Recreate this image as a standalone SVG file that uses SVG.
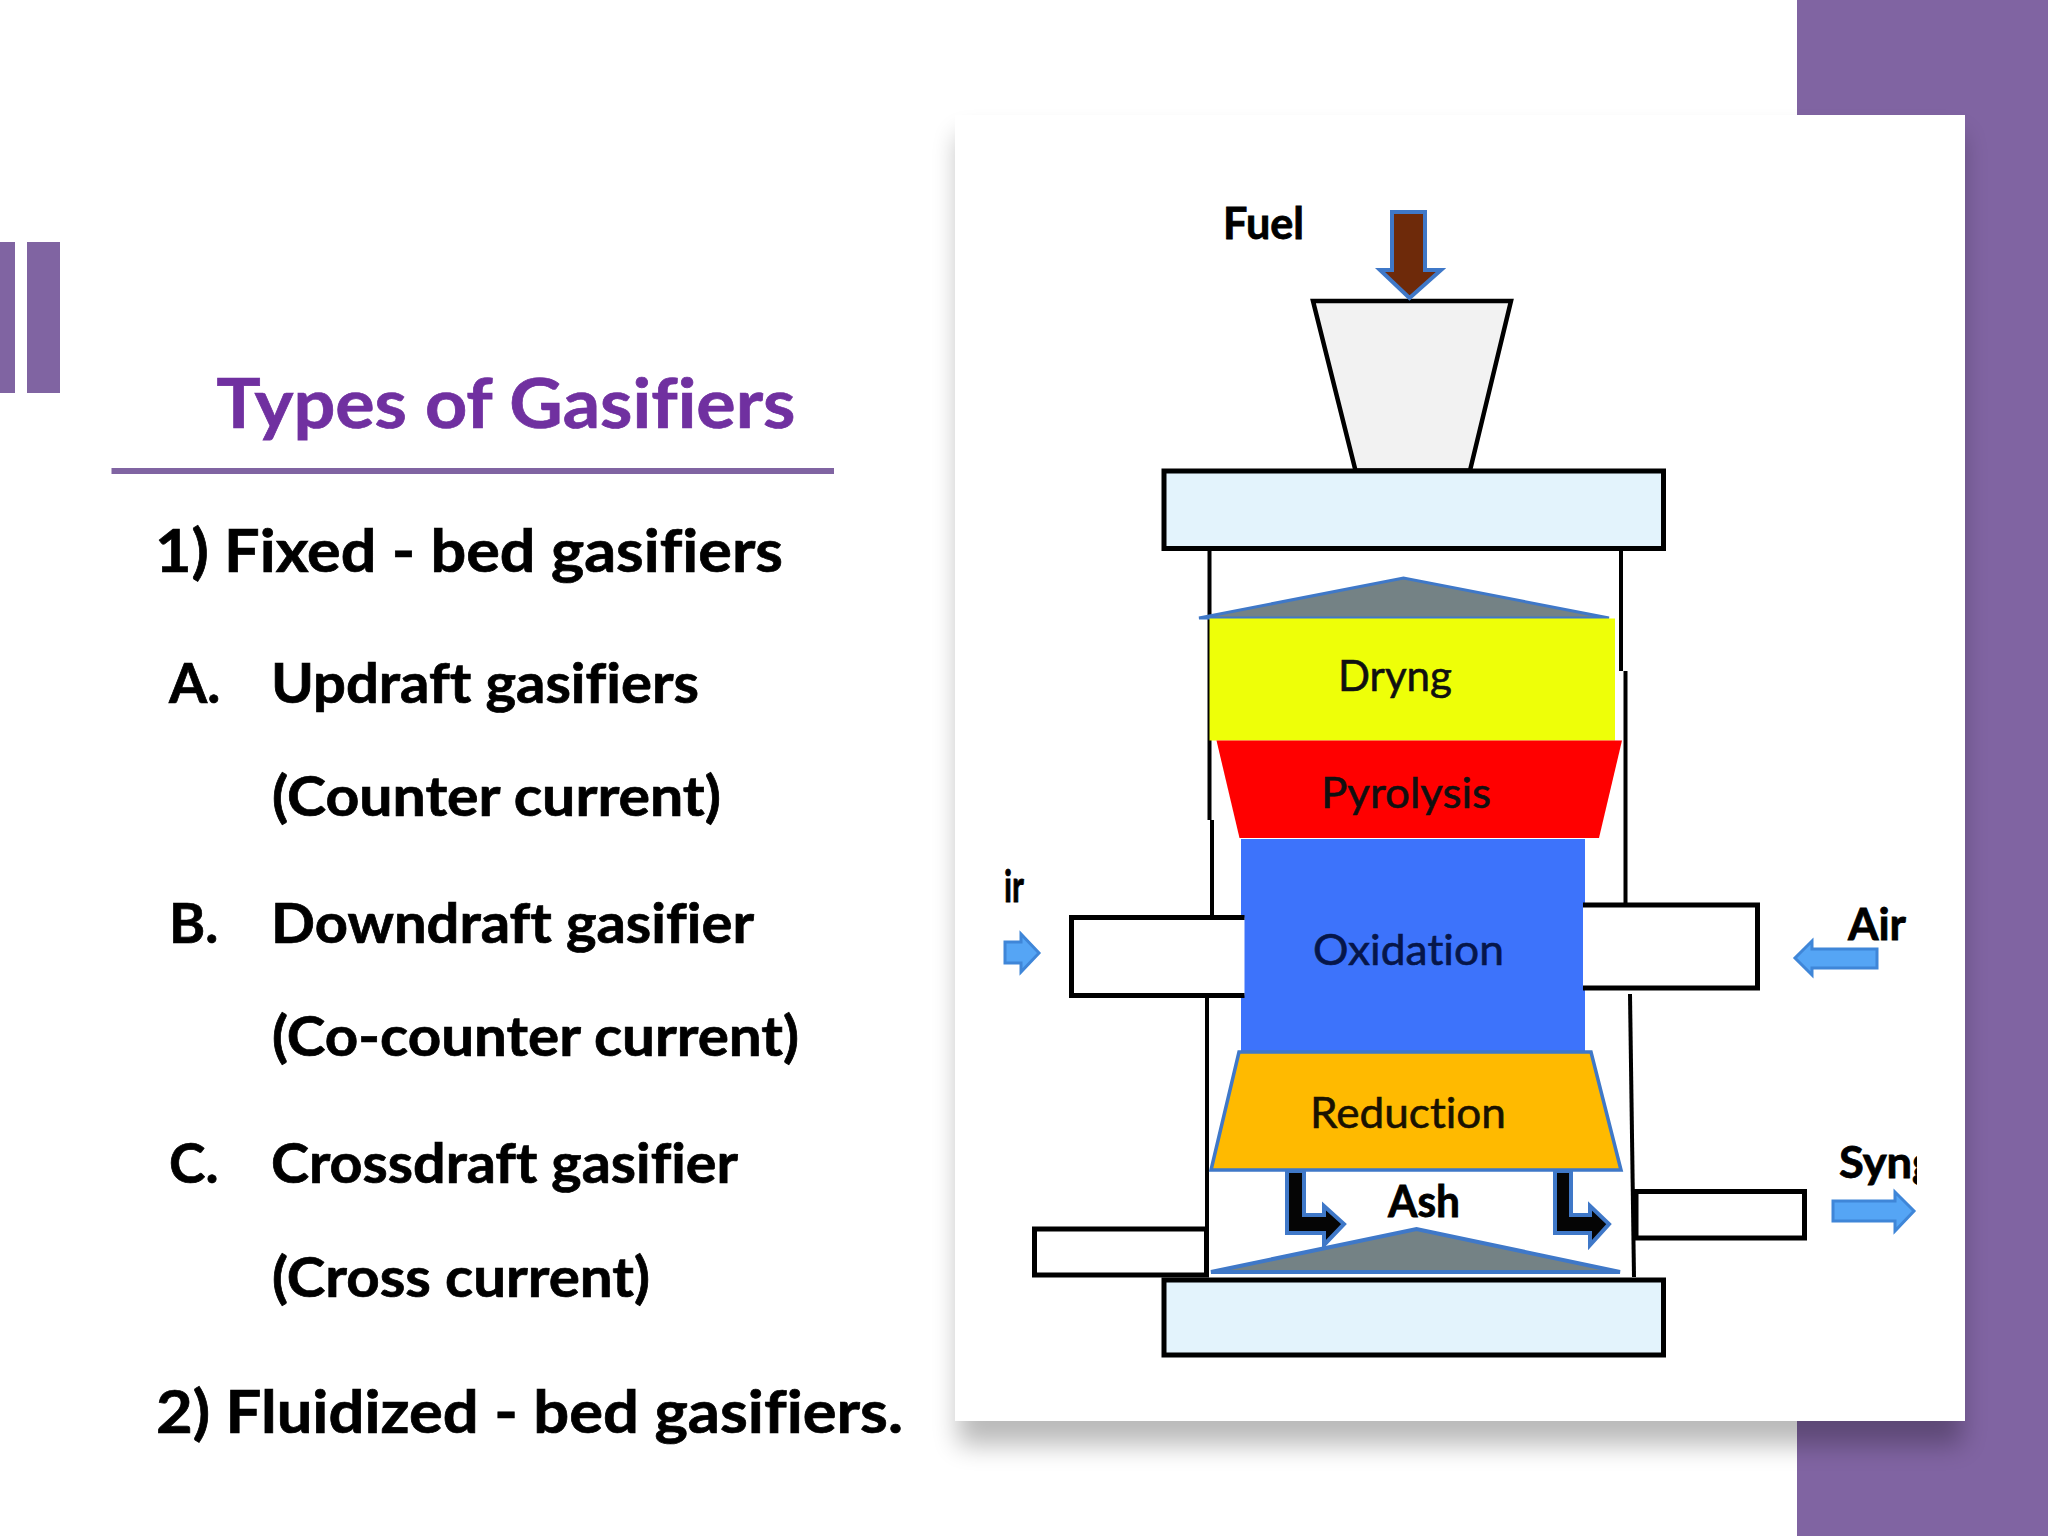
<svg xmlns="http://www.w3.org/2000/svg" width="2048" height="1536" viewBox="0 0 2048 1536">
<defs>
<style>
text{font-variant-ligatures:none}
.h{font-family:Lato,"Open Sans","Liberation Sans",sans-serif;font-weight:700;fill:#000;stroke:#000;stroke-width:.7}
.b{font-size:55px}
.l{font-size:60px}
.t{font-size:68px;fill:#7030a0;stroke:#7030a0}
.d{font-family:Lato,"Open Sans","Liberation Sans",sans-serif;font-weight:400;fill:#101010;stroke:#101010;stroke-width:.6;font-size:43px}
.k{font-family:Lato,"Open Sans","Liberation Sans",sans-serif;font-weight:700;fill:#000;stroke:#000;stroke-width:.8;font-size:44px}
.box{fill:#fff;stroke:#000;stroke-width:5}
.edge{fill:none;stroke:#000;stroke-width:5}
.plate{fill:#e3f3fc;stroke:#000;stroke-width:5}
.wall{fill:none;stroke:#000;stroke-width:4}
.pile{fill:#748285;stroke:#3f78c8;stroke-width:4}
.flow{fill:#55a5f5;stroke:#3f86d8;stroke-width:3}
.bent{fill:#050505;stroke:#3f78c8;stroke-width:4}
</style>
<filter id="sh" x="-5%" y="-5%" width="110%" height="112%">
<feGaussianBlur stdDeviation="13"/>
</filter>
<clipPath id="clipR"><rect x="1830" y="1130" width="87" height="110"/></clipPath>
</defs>
<rect width="2048" height="1536" fill="#fff"/>
<g id="background">
<rect x="1797" y="0" width="251" height="1536" fill="#8064a2"/>
<rect x="958" y="135" width="1004" height="1310" fill="#000" opacity="0.27" filter="url(#sh)"/>
<rect x="955" y="115" width="1010" height="1306" fill="#fff"/>
<rect x="0" y="242" width="15" height="151" fill="#8064a2"/>
<rect x="27" y="242" width="33" height="151" fill="#8064a2"/>
</g>
<g id="slide-text">
<text class="h t" x="216.500" y="428" textLength="579" lengthAdjust="spacingAndGlyphs">Types of Gasifiers</text>
<rect x="111.500" y="468" width="722.500" height="6" fill="#8064a2"/>
<text class="h l" x="155" y="572" textLength="628" lengthAdjust="spacingAndGlyphs">1) Fixed - bed gasifiers</text>
<text class="h b" x="169" y="703">A.</text>
<text class="h b" x="271" y="703" textLength="428" lengthAdjust="spacingAndGlyphs">Updraft gasifiers</text>
<text class="h b" x="272" y="816" textLength="449" lengthAdjust="spacingAndGlyphs">(Counter current)</text>
<text class="h b" x="169" y="943">B.</text>
<text class="h b" x="271" y="943" textLength="483" lengthAdjust="spacingAndGlyphs">Downdraft gasifier</text>
<text class="h b" x="272" y="1056" textLength="527" lengthAdjust="spacingAndGlyphs">(Co-counter current)</text>
<text class="h b" x="169" y="1183">C.</text>
<text class="h b" x="271" y="1183" textLength="467" lengthAdjust="spacingAndGlyphs">Crossdraft gasifier</text>
<text class="h b" x="272" y="1297" textLength="378" lengthAdjust="spacingAndGlyphs">(Cross current)</text>
<text class="h l" x="156" y="1433" textLength="747" lengthAdjust="spacingAndGlyphs">2) Fluidized - bed gasifiers.</text>
</g>
<g id="walls">
<path class="wall" d="M1209.500 548V820"/>
<path class="wall" d="M1212 820V916"/>
<path class="wall" d="M1621 548V671"/>
<path class="wall" d="M1625.500 671V905"/>
<path class="wall" d="M1207 996V1277"/>
<path class="wall" d="M1630 994L1634 1277"/>
</g>
<g id="hopper"><path d="M1313 301H1511L1470 470.500H1355.500Z" fill="#f2f2f2" stroke="#000" stroke-width="4.500"/></g>
<g id="top-plate"><rect class="plate" x="1164" y="471" width="499.500" height="77.500"/></g>
<g id="top-pile"><path class="pile" d="M1199 618L1403.500 578L1609 618Z" style="stroke-width:3"/></g>
<g id="drying">
<rect x="1209.500" y="618.500" width="405.500" height="122" fill="#eeff08"/>
<text class="d" x="1338" y="691" textLength="114" lengthAdjust="spacingAndGlyphs">Dryng</text>
</g>
<g id="pyrolysis">
<path d="M1216.500 740.500H1622L1599 838H1239.500Z" fill="#ff0000"/>
<text class="d" x="1321" y="808" textLength="170" lengthAdjust="spacingAndGlyphs">Pyrolysis</text>
</g>
<g id="oxidation">
<rect x="1241" y="839" width="344" height="212" fill="#3d73fb"/>
<text class="d" x="1313" y="965" textLength="191" lengthAdjust="spacingAndGlyphs" style="fill:#06164a;stroke:#06164a">Oxidation</text>
</g>
<g id="air-left">
<rect x="1071.500" y="917.500" width="173" height="78" fill="#fff"/>
<path class="edge" d="M1244.500 917.500H1071.500V995.500H1244.500"/>
</g>
<g id="air-right">
<rect x="1583" y="905" width="174.500" height="83" fill="#fff"/>
<path class="edge" d="M1583 905H1757.500V988H1583"/>
</g>
<g id="reduction">
<path d="M1239 1052H1591L1621 1170H1211Z" fill="#ffba00" stroke="#3f78c8" stroke-width="3.500"/>
<text class="d" x="1310" y="1128" textLength="196" lengthAdjust="spacingAndGlyphs" style="fill:#1a1200;stroke:#1a1200">Reduction</text>
</g>
<g id="ash-left"><rect class="box" x="1034.500" y="1229" width="172" height="46"/></g>
<g id="syngas-box"><rect class="box" x="1636" y="1191.500" width="168.500" height="46.500"/></g>
<g id="bottom-plate"><rect class="plate" x="1164" y="1280" width="499.500" height="75"/></g>
<g id="bottom-pile"><path class="pile" d="M1211 1272L1416.500 1229L1620 1272Z"/></g>
<g id="labels">
<text class="k" x="1223" y="239" textLength="81" lengthAdjust="spacingAndGlyphs">Fuel</text>
<text class="k" x="1388" y="1217" textLength="72" lengthAdjust="spacingAndGlyphs">Ash</text>
<text class="k" x="1848" y="940" textLength="58" lengthAdjust="spacingAndGlyphs">Air</text>
<text class="k" x="1004" y="902" textLength="20" lengthAdjust="spacingAndGlyphs">ir</text>
<text class="k" x="1839" y="1178" clip-path="url(#clipR)" textLength="97" lengthAdjust="spacingAndGlyphs">Syng</text>
</g>
<g id="connectors">
<path d="M1392 212H1425V270H1441L1409.500 298L1380 270H1392Z" fill="#6e2a0a" stroke="#3f78c8" stroke-width="4"/>
<path class="flow" d="M1005 942H1021V934L1039 953L1021 972V963H1005Z"/>
<path class="flow" d="M1877 949V968H1812V975L1795 958L1812 941V949Z"/>
<path class="flow" d="M1833 1201H1895V1192L1914 1211L1895 1231V1221H1833Z"/>
<path class="bent" d="M1287 1171H1304V1215H1324V1206L1344 1224L1324 1245V1233H1287Z"/>
<path class="bent" d="M1555 1171H1571V1215H1590V1206L1609 1224L1590 1245V1233H1555Z"/>
</g>
</svg>
